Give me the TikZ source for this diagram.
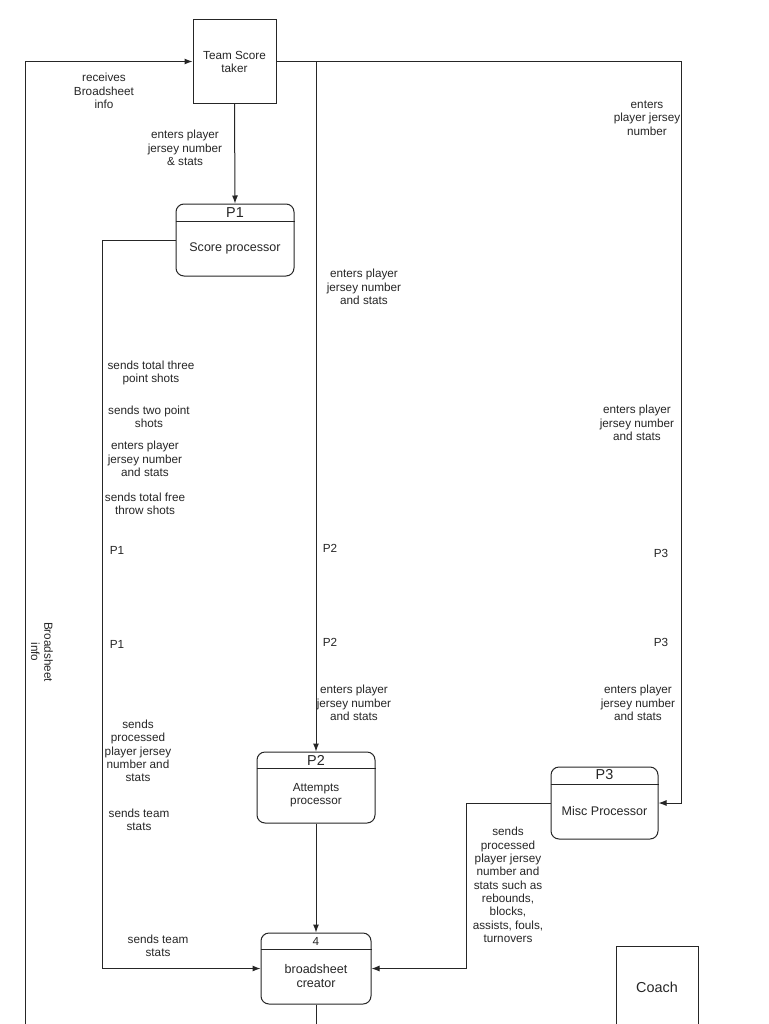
\documentclass[tikz,border=0pt]{standalone}
\usepackage{fontspec}
\setmainfont{Liberation Sans}
\usetikzlibrary{arrows.meta}
\begin{document}
\begin{tikzpicture}[x=0.75pt,y=-0.75pt,
  lbl/.style={font=\fontsize{8.8}{10}\selectfont, align=center, inner sep=0pt, text=black!85},
  mid/.style={font=\fontsize{9.4}{10.5}\selectfont, align=center, inner sep=0pt, text=black!85},
  big/.style={font=\fontsize{10.8}{12}\selectfont, align=center, inner sep=0pt, text=black!85},
  ent/.style={draw=black!85, line width=0.75pt, inner sep=0pt},
  proc/.style={draw=black!85, rounded corners=6pt, line width=0.75pt, inner sep=0pt},
  conn/.style={draw=black!85, line width=0.75pt},
  flow/.style={conn, -{Latex[length=6pt,width=4.5pt]}}]
\useasboundingbox (0,0) rectangle (768,1024);
\clip (0,0) rectangle (768,1024);
\fill[white] (0,0) rectangle (768,1024);

% entities
\node[ent, minimum width=62.25pt, minimum height=62.25pt] (taker) at (234.5,61.5) {};
\node[lbl] (takert) at (234.5,62) {Team Score\\taker};
\node[ent, minimum width=61.5pt, minimum height=66pt] (coach) at (657,990) {};
\node[big] (coacht) at (657,987) {Coach};

% processes
\node[proc, minimum width=88.5pt, minimum height=54pt] (p1) at (235,240) {};
\draw[conn] (p1.west |- 0,221) -- (p1.east |- 0,221);
\node[big] (p1h) at (235,212.5) {P1};
\node[mid] (p1t) at (235,248) {Score processor};

\node[proc, minimum width=88.5pt, minimum height=53.25pt] (p2) at (316,787.5) {};
\draw[conn] (p2.west |- 0,768) -- (p2.east |- 0,768);
\node[big] (p2h) at (316,760) {P2};
\node[lbl] (p2t) at (316,795) {Attempts\\processor};

\node[proc, minimum width=82.5pt, minimum height=53.25pt] (bc) at (316,968.5) {};
\draw[conn] (bc.west |- 0,949) -- (bc.east |- 0,949);
\node[lbl] (bch) at (316,941) {4};
\node[mid] (bct) at (316,976) {broadsheet\\creator};

\node[proc, minimum width=80.25pt, minimum height=54pt] (p3) at (604.5,803) {};
\draw[conn] (p3.west |- 0,784) -- (p3.east |- 0,784);
\node[big] (p3h) at (604.5,775) {P3};
\node[mid] (p3t) at (604.5,811) {Misc Processor};

% connectors
\coordinate (br) at (316,61.5);
\draw[flow] (taker.east) -- (681,61.5) |- (p3.east);
\draw[flow] (br) -- (p2.north);
\draw[flow] (taker.south) -- (p1.north);
\draw[flow] (p1.west) -- (102,240) |- (bc.west);
\draw[flow] (p2.south) -- (bc.north);
\draw[flow] (p3.west) -- (466,803) |- (bc.east);
\draw[flow] (bc.south) -- (316,1040) -- (25,1040) -- (25,61.5) -- (taker.west);

% labels
\node[lbl] (l1) at (104,91) {receives\\Broadsheet\\info};
\node[lbl] (l2) at (185,148) {enters player\\jersey number\\\& stats};
\node[lbl] (l3) at (647,118) {enters\\player jersey\\number};
\node[lbl] (l4) at (364,287) {enters player\\jersey number\\and stats};
\node[lbl] (l5) at (151,373) {sends total three\\point shots};
\node[lbl] (l6) at (149,417) {sends two point\\shots};
\node[lbl] (l7) at (145,459) {enters player\\jersey number\\and stats};
\node[lbl] (l8) at (145,504) {sends total free\\throw shots};
\node[lbl] (l9) at (117,550) {P1};
\node[lbl] (l10) at (117,644) {P1};
\node[lbl] (l11) at (330,548) {P2};
\node[lbl] (l12) at (330,642) {P2};
\node[lbl] (l13) at (661,553) {P3};
\node[lbl] (l14) at (661,642) {P3};
\node[lbl] (l15) at (637,423) {enters player\\jersey number\\and stats};
\node[lbl] (l16) at (354,703) {enters player\\jersey number\\and stats};
\node[lbl] (l17) at (638,703) {enters player\\jersey number\\and stats};
\node[lbl, rotate=-90] (l18) at (42,652) {Broadsheet\\info};
\node[lbl] (l19) at (138,751) {sends\\processed\\player jersey\\number and\\stats};
\node[lbl] (l20) at (139,820) {sends team\\stats};
\node[lbl] (l21) at (158,946) {sends team\\stats};
\node[lbl] (l22) at (508,885) {sends\\processed\\player jersey\\number and\\stats such as\\rebounds,\\blocks,\\assists, fouls,\\turnovers};
\end{tikzpicture}
\end{document}
